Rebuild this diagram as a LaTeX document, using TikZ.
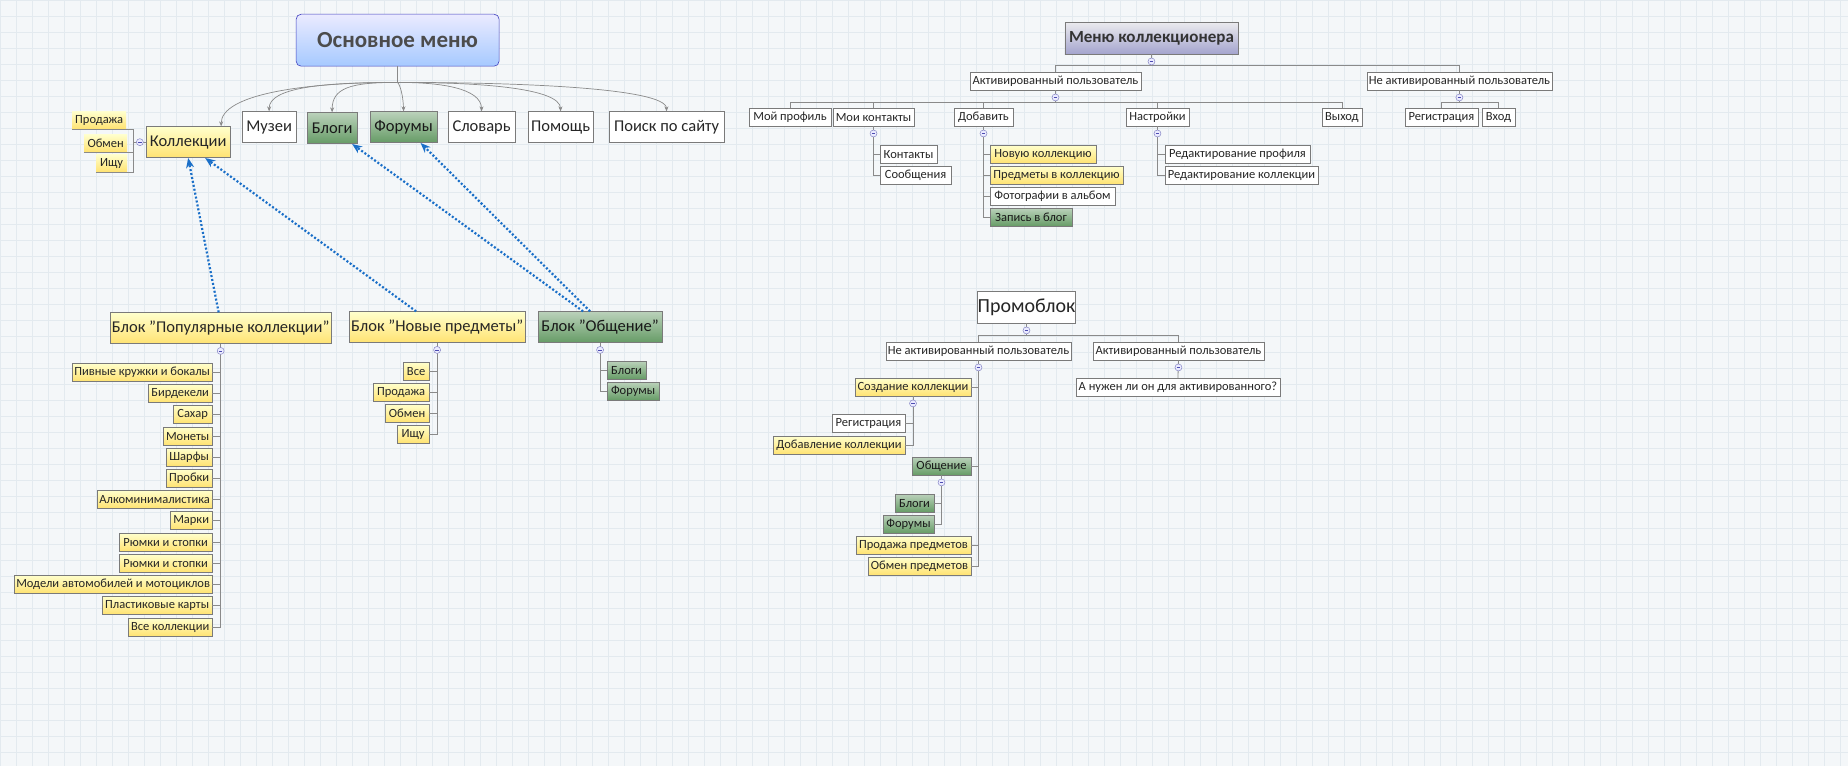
\documentclass[tikz,border=0pt]{standalone}
\usepackage{fontspec}
\setmainfont{Carlito}
\usetikzlibrary{arrows.meta,calc}
\definecolor{bg}{HTML}{F4F7F9}
\definecolor{gridc}{HTML}{E3EAEF}
\definecolor{bord}{HTML}{7A7A7A}
\definecolor{lnc}{HTML}{8A8A8A}
\definecolor{blu}{HTML}{1A6FC8}
\newcommand\q{{\char"22}}
\tikzset{
 base/.style={draw=bord, line width=0.6pt, inner sep=0pt, text=black!85, font=\fontsize{12.5}{14}\selectfont},
 wb/.style={base, fill=white},
 yb/.style={base, top color=yellow!20!white, bottom color=yellow!60!orange!55!white},
 gb/.style={base, top color=green!20!gray!45!white, bottom color=green!35!black!60, text=black!90},
 med/.style={font=\fontsize{16.5}{20}\selectfont},
 ln/.style={draw=lnc, line width=0.8pt},
 cur/.style={draw=lnc, line width=0.7pt, -{Stealth[length=5pt,width=4pt]}},
 dot/.style={draw=blu, line width=2.2pt, dash pattern=on 2pt off 2pt, -{Stealth[length=10pt,width=8pt]}},
 col/.style={circle, draw=blue!35!gray!70, fill=blue!8, line width=0.5pt, minimum size=7pt, inner sep=0pt,
   path picture={\draw[blue!40!gray, line width=0.4pt] ([xshift=-1.8pt]path picture bounding box.center) -- ([xshift=1.8pt]path picture bounding box.center);}}
}
\newcommand\bx[7]{\node[#2, minimum width={(#4)-(#3)}, minimum height=#6] (#1) at ({((#3)+(#4))/2},#5) {#7};}
\newcommand\cc[1]{\node[col] at ($(#1.south)+(0,7)$) {};}
\begin{document}
\begin{tikzpicture}[x=1pt,y=-1pt]
\fill[bg] (0,0) rectangle (1848,766);
\draw[gridc, line width=0.4pt, step=16pt] (0,0) grid (1848,766);
\useasboundingbox (0,0) rectangle (1848,766);

% ---------- main menu ----------
\node[draw=blue!50!gray, rounded corners=5pt, top color=blue!8!white, bottom color=cyan!40!blue!35!white,
  minimum width=203, minimum height=52, font=\fontsize{23}{26}\selectfont\bfseries, text=black!70, line width=0.6pt]
  (main) at (397.5,40) {Основное меню};
\bx{kol}{yb,med}{146}{230}{142}{31}{Коллекции}
\bx{muz}{wb,med}{242}{296}{127}{31}{Музеи}
\bx{blo}{gb,med}{307}{357}{128}{31}{Блоги}
\bx{for}{gb,med}{370}{437}{127}{31}{Форумы}
\bx{slo}{wb,med}{448}{515}{127}{31}{Словарь}
\bx{pom}{wb,med}{528}{593}{127}{31}{Помощь}
\bx{poi}{wb,med}{609}{724}{127}{31}{Поиск по сайту}
\draw[ln,line width=0.7pt] (main.south) -- ++(0,16) coordinate (mh);
\draw[cur] (mh) .. controls (300,82) and (221,95) .. ([xshift=33pt]kol.north);
\draw[cur] (mh) .. controls (320,82) and (269,88) .. (muz.north);
\draw[cur] (mh) .. controls (350,82) and (332,88) .. (blo.north);
\draw[cur] (mh) .. controls (400,85) and (403,95) .. (for.north);
\draw[cur] (mh) .. controls (440,82) and (481,88) .. (slo.north);
\draw[cur] (mh) .. controls (480,82) and (560,88) .. (pom.north);
\draw[cur] (mh) .. controls (520,82) and (666,88) .. (poi.north);

% left of Коллекции
\node[yb, draw=none, minimum width=54, minimum height=17] (k1) at (99,120) {Продажа};
\node[yb, draw=none, minimum width=43, minimum height=17] (k2) at (105.5,143) {Обмен};
\node[yb, draw=none, minimum width=31, minimum height=17] (k3) at (111.5,163) {Ищу};
\draw[ln] (kol.west) -- ++(-12,0) coordinate (kb);
\foreach \k in {k1,k2,k3} {\draw[ln] (\k.south west) -- (\k.south east) -| (kb);}
\node[col] at ($(kol.west)+(-6,0)$) {};

% blocks
\bx{pop}{yb,med}{110}{331}{328}{31}{Блок \q Популярные коллекции\q}
\bx{nov}{yb,med}{349}{525}{327}{31}{Блок \q Новые предметы\q}
\bx{obs}{gb,med}{538}{662}{327}{31}{Блок \q Общение\q}
\draw[dot] ([xshift=-2pt]pop.north) -- (kol.south);
\draw[dot] ([xshift=-21pt]nov.north) -- ([xshift=17pt]kol.south);
\draw[dot] ([xshift=-17pt]obs.north) -- ([xshift=20pt]blo.south);
\draw[dot] ([xshift=-10pt]obs.north) -- ([xshift=17pt]for.south);

% popular list
\foreach \n/\l/\y/\t in {p1/72/372/Пивные кружки и бокалы, p2/148/393/Бирдекели, p3/173/414/Сахар, p4/163/436/Монеты,
  p5/166/457/Шарфы, p6/166/478/Пробки, p7/97/499/Алкоминималистика, p8/170/520/Марки, p9/119/542/Рюмки и стопки,
  p10/119/563/Рюмки и стопки, p11/14/584/Модели автомобилей и мотоциклов, p12/102/605/Пластиковые карты, p13/128/627/Все коллекции}
 {\bx{\n}{yb}{\l}{212}{\y}{18}{\t} \draw[ln] (pop.south) |- (\n.east);}
\cc{pop}
\foreach \n/\l/\y/\t in {n1/403/371/Все, n2/373/392/Продажа, n3/385/413/Обмен, n4/397/434/Ищу}
 {\bx{\n}{yb}{\l}{429}{\y}{18}{\t} \draw[ln] (nov.south) |- (\n.east);}
\cc{nov}
\bx{o1}{gb}{607}{646}{370}{18}{Блоги}
\bx{o2}{gb}{607}{659}{391}{18}{Форумы}
\foreach \n in {o1,o2} {\draw[ln] (obs.south) |- (\n.west);}
\cc{obs}

% ---------- Меню коллекционера ----------
\node[base, top color=blue!8!gray!15!white, bottom color=blue!30!gray!55!white, minimum width=173, minimum height=32,
  font=\fontsize{17}{19}\selectfont\bfseries, text=black!80] (mk) at (1151.5,38) {Меню коллекционера};
\bx{act}{wb}{970}{1141}{81}{18}{Активированный пользователь}
\bx{nact}{wb}{1367}{1552}{81}{18}{Не активированный пользователь}
\draw[ln] (mk.south) -- (mk.south |- 0,65) coordinate (mkh);
\draw[ln] (act.north) |- (mkh) -| (nact.north);
\cc{mk}
\bx{mp}{wb}{749}{831}{117}{18}{Мой профиль}
\bx{mc}{wb}{833}{914}{117}{18}{Мои контакты}
\bx{ad}{wb}{954}{1013}{117}{18}{Добавить}
\bx{ns}{wb}{1126}{1189}{117}{18}{Настройки}
\bx{vy}{wb}{1322}{1362}{117}{18}{Выход}
\draw[ln] (act.south) -- (act.south |- 0,102) coordinate (ah);
\draw[ln] (mp.north) |- (ah) -| (vy.north);
\foreach \n in {mc,ad,ns} {\draw[ln] (\n.north) -- (\n.north |- ah);}
\cc{act}
\bx{rg}{wb}{1405}{1478}{117}{18}{Регистрация}
\bx{vh}{wb}{1482}{1515}{117}{18}{Вход}
\draw[ln] (nact.south) -- (nact.south |- 0,102) coordinate (nh);
\draw[ln] (rg.north) |- (nh) -| (vh.north);
\cc{nact}
\bx{c1}{wb}{880}{937}{154}{18}{Контакты}
\bx{c2}{wb}{880}{951}{175}{18}{Сообщения}
\foreach \n in {c1,c2} {\draw[ln] (mc.south) |- (\n.west);}
\cc{mc}
\bx{a1}{yb}{990}{1096}{154}{18}{Новую коллекцию}
\bx{a2}{yb}{990}{1123}{175}{18}{Предметы в коллекцию}
\bx{a3}{wb}{990}{1115}{196}{18}{Фотографии в альбом}
\bx{a4}{gb}{990}{1072}{217}{18}{Запись в блог}
\foreach \n in {a1,a2,a3,a4} {\draw[ln] (ad.south) |- (\n.west);}
\cc{ad}
\bx{s1}{wb}{1165}{1310}{154}{18}{Редактирование профиля}
\bx{s2}{wb}{1165}{1318}{175}{18}{Редактирование коллекции}
\foreach \n in {s1,s2} {\draw[ln] (ns.south) |- (\n.west);}
\cc{ns}

% ---------- Промоблок ----------
\bx{pr}{wb}{981}{1072}{307}{32}{\fontsize{20}{22}\selectfont Промоблок}
\bx{pna}{wb}{886}{1071}{351}{18}{Не активированный пользователь}
\bx{pa}{wb}{1093}{1264}{351}{18}{Активированный пользователь}
\draw[ln] (pr.south) -- (pr.south |- 0,335) coordinate (ph);
\draw[ln] (pna.north) |- (ph) -| (pa.north);
\cc{pr}
\bx{q}{wb}{1076}{1280}{387}{18}{А нужен ли он для активированного?}
\draw[ln] (pa.south) -- (q.north);
\cc{pa}
\bx{u1}{yb}{855}{971}{387}{18}{Создание коллекции}
\bx{u2}{gb}{912}{971}{466}{18}{Общение}
\bx{u3}{yb}{856}{971}{545}{18}{Продажа предметов}
\bx{u4}{yb}{868}{971}{566}{18}{Обмен предметов}
\foreach \n in {u1,u2,u3,u4} {\draw[ln] (pna.south) |- (\n.east);}
\cc{pna}
\bx{r1}{wb}{832}{905}{423}{18}{Регистрация}
\bx{r2}{yb}{773}{905}{445}{18}{Добавление коллекции}
\foreach \n in {r1,r2} {\draw[ln] (u1.south) |- (\n.east);}
\cc{u1}
\bx{g1}{gb}{895}{934}{503}{18}{Блоги}
\bx{g2}{gb}{883}{934}{524}{18}{Форумы}
\foreach \n in {g1,g2} {\draw[ln] (u2.south) |- (\n.east);}
\cc{u2}
\end{tikzpicture}
\end{document}
